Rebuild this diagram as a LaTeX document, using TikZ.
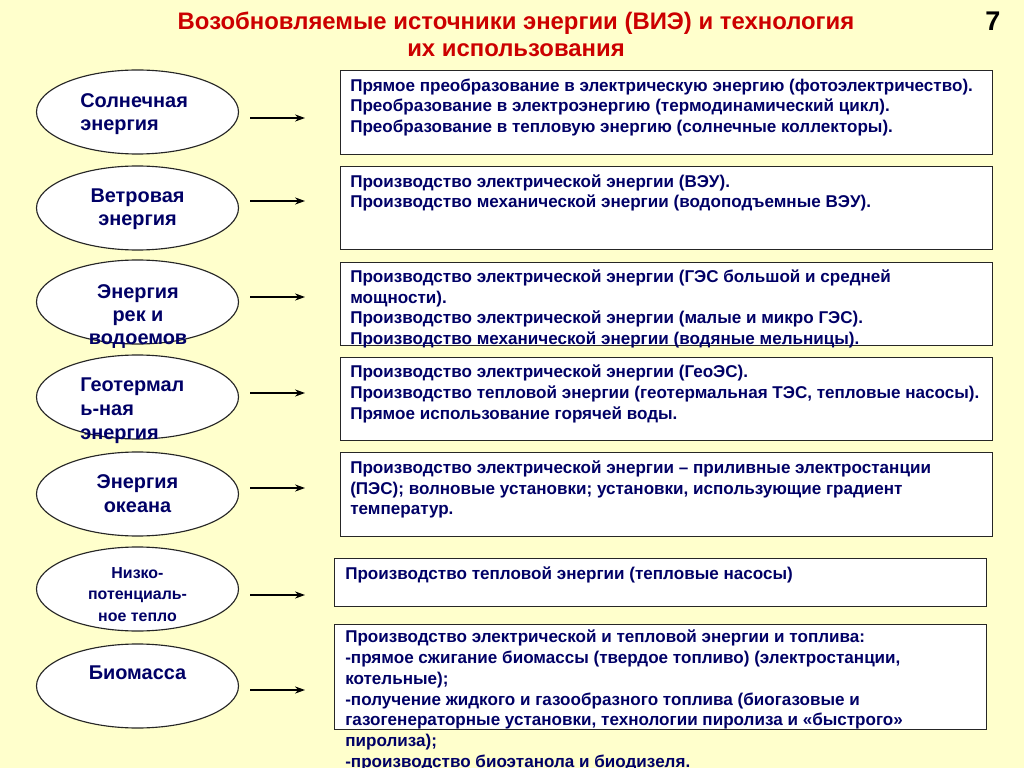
\documentclass[tikz,border=0pt]{standalone}
\usepackage{fontspec}
\setmainfont{Liberation Sans}
\usetikzlibrary{arrows.meta,shapes.geometric}
\definecolor{slidebg}{HTML}{FFFFCC}
\definecolor{inkblue}{HTML}{000066}
\definecolor{titlered}{HTML}{CC0000}
\def\px{0.703125pt}
\tikzset{
  every picture/.style={>={Stealth[length=7pt,width=5pt]}},
  oval/.style={ellipse, draw=black!85, line width=0.8pt, fill=white,
    minimum width=202*\px, minimum height=84*\px, inner sep=0pt},
  ovaltext/.style={inner sep=0pt, text=inkblue, font=\bfseries\fontsize{14}{16.2}\selectfont},
  panel/.style={draw=black!85, line width=1pt, fill=white, inner sep=0pt,
    anchor=north west, minimum width=652*\px},
  paneltext/.style={inner sep=0pt, anchor=base west, align=left, text=inkblue,
    font=\bfseries\fontsize{12}{14.5}\selectfont},
  flow/.style={->, line width=1pt, black},
}

\begin{document}
\begin{tikzpicture}[x=\px, y=-\px]
  \fill[slidebg] (0,0) rectangle (1024,768);
  \path[use as bounding box] (0,0) rectangle (1024,768);

  % heading (base anchor = last line)
  \node[anchor=base, align=center, inner sep=0pt, text=titlered,
    font=\bfseries\fontsize{16.8}{19}\selectfont] (head) at (516,57)
    {Возобновляемые источники энергии (ВИЭ) и технология\\их использования};
  \node[anchor=base, inner sep=0pt, font=\bfseries\fontsize{19}{22}\selectfont] (pageno) at (993,31) {7};

  % sources
  \node[oval] (sun) at (137.5,112) {};
  \node[oval] (wind) at (137.5,208) {};
  \node[oval] (river) at (137.5,302) {};
  \node[oval] (geo) at (137.5,397) {};
  \node[oval] (ocean) at (137.5,494) {};
  \node[oval] (lowheat) at (137.5,589) {};
  \node[oval] (bio) at (137.5,686) {};

  \node[ovaltext, anchor=base west, align=left] (sunlbl) at (80,130.5) {Солнечная\\энергия};
  \node[ovaltext, anchor=base, align=center] (windlbl) at (137.5,226) {Ветровая\\энергия};
  \node[ovaltext, anchor=base, align=center] (riverlbl) at (138,344.5) {Энергия\\рек и\\водоемов};
  \node[ovaltext, anchor=base west, align=left, font=\bfseries\fontsize{14}{17}\selectfont] (geolbl) at (80,439.5)
    {Геотермал\\ь-ная\\энергия};
  \node[ovaltext, anchor=base, align=center] (oceanlbl) at (137.5,512) {Энергия\\океана};
  \node[ovaltext, anchor=base, align=center, font=\bfseries\fontsize{11.2}{14.8}\selectfont] (lowheatlbl) at (137.5,621)
    {Низко-\\потенциаль-\\ное тепло};
  \node[ovaltext, anchor=base, align=center] (biolbl) at (137.5,679.5) {Биомасса};

  % technologies
  \node[panel, minimum height=84*\px] (b1) at (340,70) {};
  \node[panel, minimum height=83*\px] (b2) at (340,166) {};
  \node[panel, minimum height=83*\px] (b3) at (340,262) {};
  \node[panel, minimum height=83*\px] (b4) at (340,357) {};
  \node[panel, minimum height=84*\px] (b5) at (340,452) {};
  \node[panel, minimum height=48*\px] (b6) at (334,558) {};
  \node[panel, minimum height=105*\px] (b7) at (334,624) {};

  \node[paneltext] (t1) at (350,132.6) {Прямое преобразование в электрическую энергию (фотоэлектричество).\\
    Преобразование в электроэнергию (термодинамический цикл).\\
    Преобразование в тепловую энергию (солнечные коллекторы).};
  \node[paneltext] (t2) at (350,208) {Производство электрической энергии (ВЭУ).\\
    Производство механической энергии (водоподъемные ВЭУ).};
  \node[paneltext] (t3) at (350,344.5) {Производство электрической энергии (ГЭС большой и средней\\
    мощности).\\
    Производство электрической энергии (малые и микро ГЭС).\\
    Производство механической энергии (водяные мельницы).};
  \node[paneltext] (t4) at (350,419) {Производство электрической энергии (ГеоЭС).\\
    Производство тепловой энергии (геотермальная ТЭС, тепловые насосы).\\
    Прямое использование горячей воды.};
  \node[paneltext] (t5) at (350,514.7) {Производство электрической энергии – приливные электростанции\\
    (ПЭС); волновые установки; установки, использующие градиент\\
    температур.};
  \node[paneltext] (t6) at (345,579.6) {Производство тепловой энергии (тепловые насосы)};
  \node[paneltext, font=\bfseries\fontsize{12}{14.65}\selectfont] (t7) at (345,767.6)
    {Производство электрической и тепловой энергии и топлива:\\
    -прямое сжигание биомассы (твердое топливо) (электростанции,\\
    котельные);\\
    -получение жидкого и газообразного топлива (биогазовые и\\
    газогенераторные установки, технологии пиролиза и «быстрого»\\
    пиролиза);\\
    -производство биоэтанола и биодизеля.};

  % arrows between the columns
  \foreach \n/\y in {1/118,2/201,3/297,4/393,5/488,6/595,7/690}{
    \coordinate (s\n) at (250,\y);
    \coordinate (e\n) at (305,\y);
    \draw[flow] (s\n) -- (e\n);
  }
\end{tikzpicture}
\end{document}
